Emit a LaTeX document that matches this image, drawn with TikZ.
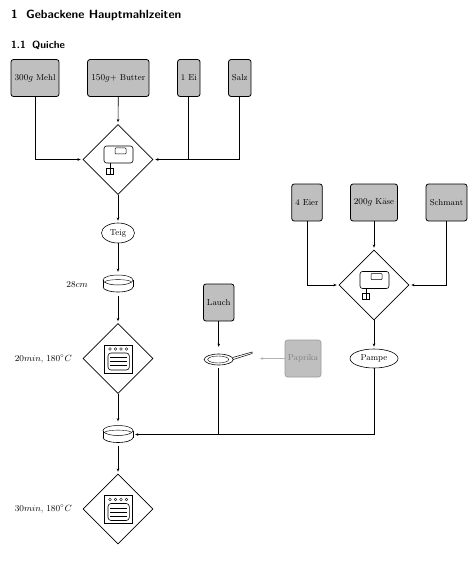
\documentclass[tikz,border=0pt]{standalone}
\usepackage{amsmath}
\usetikzlibrary{shapes.geometric,arrows.meta}
\definecolor{boxgray}{gray}{0.75}
\tikzset{
  x=1pt,y=-1pt,
  every node/.style={font=\fontsize{8.6}{10}\selectfont},
  ingredient/.style={draw,fill=boxgray,rounded corners=2.5pt,line width=0.8pt,minimum height=37pt,inner sep=0pt,anchor=center},
  faded/.style={draw=black!40,fill=boxgray,text=black!50,rounded corners=2.5pt,line width=0.6pt,minimum height=37pt,minimum width=36pt,inner sep=0pt},
  process/.style={draw,diamond,aspect=1,minimum width=70pt,minimum height=70pt,inner sep=0pt,line width=0.6pt},
  result/.style={draw,ellipse,inner sep=0pt,line width=0.6pt},
  iconbox/.style={inner sep=0pt,minimum width=30pt,minimum height=16pt},
  flow/.style={line width=0.6pt,-{Stealth[length=3.2pt,width=2.6pt]},shorten >=2pt},
  flowthick/.style={flow,line width=0.8pt},
  plain/.style={line width=0.8pt},
  heading/.style={font=\fontsize{11.9}{13}\selectfont\sffamily\bfseries,anchor=west,inner sep=0pt},
  subheading/.style={font=\fontsize{10.4}{12}\selectfont\sffamily\bfseries,anchor=west,inner sep=0pt},
  note/.style={anchor=east,inner sep=0pt},
  mixer/.pic={
    \draw[line width=0.6pt,rounded corners=2.5pt] (-14,-13.5) rectangle (15,3.5);
    \draw[line width=0.5pt,rounded corners=0.7pt] (-3,-11.5) rectangle (8,-5.5);
    \draw[line width=0.5pt] (-8,3.5) -- (-8,8.5);
    \draw[line width=0.5pt] (-11.3,8.5) rectangle (-5,14.5);
    \draw[line width=0.4pt] (-8,8.5) -- (-8,14.5);
  },
  oven/.pic={
    \draw[line width=0.6pt] (-13.5,-13.5) rectangle (14.5,14.5);
    \foreach \kx in {-8,-2.5,3,8.5} \draw[line width=0.4pt] (\kx,-9.5) circle (1.3);
    \draw[line width=0.6pt,rounded corners=3pt] (-10,-5.5) rectangle (11.3,11.5);
    \foreach \ly in {-1,3,7} \draw[line width=0.4pt] (-8,\ly) -- (9,\ly);
  },
  tin/.pic={
    \draw[line width=0.5pt] (0,-4) ellipse[x radius=15,y radius=5];
    \draw[line width=0.4pt] (-13,-2.5) .. controls (-9,-5) and (9,-5) .. (13,-2.5);
    \draw[line width=0.6pt] (-15,-4) -- (-15,3);
    \draw[line width=0.6pt] (15,-4) -- (15,3);
    \draw[line width=0.6pt] (-15,3) .. controls (-15,5.8) and (-8,8) .. (0,8) .. controls (8,8) and (15,5.8) .. (15,3);
  },
  panicon/.pic={
    \draw[line width=0.6pt] (0,1) ellipse[x radius=14.5,y radius=5.5];
    \draw[line width=0.4pt] (-0.5,1) ellipse[x radius=10.5,y radius=3.5];
    \draw[line width=0.5pt] (14,-1) -- (33.5,-6.5) -- (33.5,-5) -- (14.5,1);
  },
}
\begin{document}
\begin{tikzpicture}
\useasboundingbox (0,0) rectangle (474,564);
\node[heading] (title) at (11,15) {1\hspace{0.7em}Gebackene Hauptmahlzeiten};
\node[subheading] (subtitle) at (11,45) {1.1\hspace{0.6em}Quiche};

\node[ingredient,minimum width=48pt] (mehl) at (35,78) {$300g$ Mehl};
\node[ingredient,minimum width=61.5pt] (butter) at (118.3,78) {$150g$+ Butter};
\node[ingredient,minimum width=22.5pt] (ei) at (188.8,78) {1 Ei};
\node[ingredient,minimum width=22.5pt] (salz) at (239.8,78) {Salz};

\node[process] (mix1) at (118,159.5) {};
\pic at (118,159.5) {mixer};
\node[result,minimum width=33pt,minimum height=20pt] (teig) at (118,233) {Teig};
\node[iconbox,minimum height=22pt] (tin1) at (118,285) {};
\pic at (118,284) {tin};
\node[process] (oven1) at (118,358.5) {};
\pic at (118,358.5) {oven};
\node[iconbox,minimum height=22pt] (tin2) at (118,434.5) {};
\pic at (118,434.5) {tin};
\node[process] (oven2) at (118,509) {};
\pic at (118,509) {oven};

\node[note] (size) at (88,284.5) {$28cm$};
\node[note] (bake1) at (72,358.5) {$20min$, $180^{\circ}C$};
\node[note] (bake2) at (72,509) {$30min$, $180^{\circ}C$};

\node[ingredient,minimum width=30.5pt] (eier) at (307,202.5) {4 Eier};
\node[ingredient,minimum width=47pt] (kaese) at (374,202.5) {$200g$ K\"ase};
\node[ingredient,minimum width=41pt] (schmant) at (446.5,202.5) {Schmant};
\node[process] (mix2) at (374,285) {};
\pic at (374,285) {mixer};
\node[result,minimum width=48pt,minimum height=19pt] (pampe) at (374,358.5) {Pampe};

\node[ingredient,minimum width=30.5pt] (lauch) at (218.7,302.5) {Lauch};
\node[iconbox,minimum width=29pt,minimum height=19pt] (pan) at (218.7,358.5) {};
\pic at (218.7,358.5) {panicon};
\coordinate (panhandle) at (258,358.5);
\node[faded] (paprika) at (303,358.5) {Paprika};

\draw[flowthick] (mehl.south) |- (mix1.west);
\draw[flow] (butter.south) -- (mix1.north);
\draw[plain] (ei.south) -- (ei.south |- mix1.east);
\draw[flowthick] (salz.south) |- (mix1.east);
\draw[flow] (mix1.south) -- (teig.north);
\draw[flow] (teig.south) -- (tin1.north);
\draw[flow] (tin1.south) -- (oven1.north);
\draw[flow] (oven1.south) -- (tin2.north);
\draw[flow] (tin2.south) -- (oven2.north);

\draw[flow] (eier.south) |- (mix2.west);
\draw[flowthick] (kaese.south) -- (mix2.north);
\draw[flowthick] (schmant.south) |- (mix2.east);
\draw[flowthick] (mix2.south) -- (pampe.north);
\draw[flowthick] (pampe.south) |- (tin2.east);
\draw[plain] (pan.south) -- (pan.south |- tin2.east);
\draw[flowthick] (lauch.south) -- (pan.north);
\draw[flow,draw=black!30] (paprika.west) -- (panhandle);
\end{tikzpicture}
\end{document}
